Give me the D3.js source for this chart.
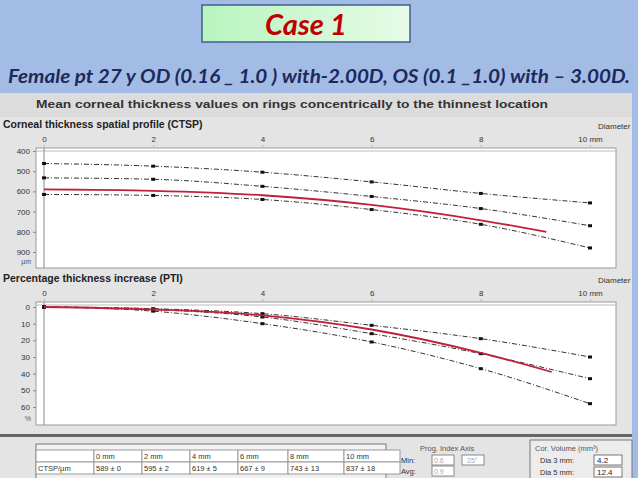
<!DOCTYPE html><html><head><meta charset="utf-8">
<script src="https://cdn.jsdelivr.net/npm/d3@7"></script>
<style>body{margin:0;background:#a3bce6;}svg{display:block}</style></head><body>
<svg id="c" width="638" height="478"></svg>
<script>
const diam=[0,2,4,6,8,10];
const diamTicks=[0,2,4,6,8,10];
const ctspTicks=[400,500,600,700,800,900];
const ptiTicks=[0,10,20,30,40,50,60];
const ctspUpper=[462,475,505,553,610,657];
const ctspMid=[533,540,575,625,685,770];
const ctspLower=[615,620,640,690,763,880];
const ctspRedX=[0,2,4,6,8,9.2];
const ctspRed=[590,597,619,667,743,800];
const ptiUpper=[0,1,4,11,19,30];
const ptiMid=[0,1.5,6,16,28,43];
const ptiLower=[0,2.5,10,21,37,58];
const ptiRedX=[0,2,4,6,8,9.3];
const ptiRed=[0,1.5,5,13.5,27.5,39];
const tableHead=["","0 mm","2 mm","4 mm","6 mm","8 mm","10 mm"];
const tableRow=["CTSP/µm","589 ± 0","595 ± 2","619 ± 5","667 ± 9","743 ± 13","837 ± 18"];

const svg=d3.select("#c");
const defs=svg.append("defs");
const g=defs.append("linearGradient").attr("id","gr");
g.append("stop").attr("offset","0").attr("stop-color","#b8f5bf");
g.append("stop").attr("offset","1").attr("stop-color","#e6fbe6");
svg.append("rect").attr("x",202).attr("y",5).attr("width",208).attr("height",37).attr("fill","url(#gr)").attr("stroke","#3f5f8f").attr("stroke-width",1.5);
svg.append("text").attr("x",306).attr("y",35).attr("text-anchor","middle").attr("font-family","Lato").attr("font-weight","bold").attr("font-style","italic").attr("font-size",29).attr("fill","#c00000").text("Case 1");
svg.append("text").attr("x",8).attr("y",83).attr("textLength",622).attr("lengthAdjust","spacingAndGlyphs").attr("font-family","Lato").attr("font-weight","bold").attr("font-style","italic").attr("font-size",19).attr("fill","#1d2a5c").text("Female pt 27 y OD (0.16 _ 1.0 ) with-2.00D, OS (0.1 _1.0) with – 3.00D.");

svg.append("rect").attr("x",0).attr("y",93).attr("width",632).attr("height",385).attr("fill","#e4e4e4");
svg.append("rect").attr("x",0).attr("y",93).attr("width",632).attr("height",24).attr("fill","#dcdcdc");
const F="Liberation Sans";
svg.append("text").attr("x",36).attr("y",108).attr("font-family",F).attr("font-weight","bold").attr("font-size",11).attr("fill","#333").attr("textLength",512).attr("lengthAdjust","spacingAndGlyphs").text("Mean corneal thickness values on rings concentrically to the thinnest location");

const x=d3.scaleLinear().domain([0,10]).range([44,590]);

function panel(title,y0,y1,yDom,yRange,yT,unit,series,red){
  svg.append("text").attr("x",3).attr("y",y0-20).attr("font-family",F).attr("font-weight","bold").attr("font-size",10.5).attr("fill","#222").text(title);
  svg.append("text").attr("x",598).attr("y",y0-19).attr("font-family",F).attr("font-size",8).attr("fill","#333").text("Diameter");
  svg.append("rect").attr("x",36).attr("y",y0).attr("width",580).attr("height",y1-y0).attr("fill","#fff").attr("stroke","#999");
  const y=d3.scaleLinear().domain(yDom).range(yRange);
  const xa=svg.append("g").attr("transform",`translate(0,${y0})`).call(d3.axisTop(x).tickValues(diamTicks).tickSize(3).tickFormat((d)=>d==10?"10  mm":d));
  xa.select(".domain").remove();
  xa.selectAll("text").attr("font-family",F).attr("font-size",8).attr("fill","#333");
  xa.selectAll("line").attr("stroke","#bbb");
  svg.append("line").attr("x1",36).attr("x2",616).attr("y1",y0+3).attr("y2",y0+3).attr("stroke","#bbb");
  svg.append("line").attr("x1",44).attr("x2",44).attr("y1",y0).attr("y2",y1).attr("stroke","#888");
  const ya=svg.append("g").attr("transform",`translate(36,0)`).call(d3.axisLeft(y).tickValues(yT).tickSize(3));
  ya.select(".domain").remove();
  ya.selectAll("text").attr("font-family",F).attr("font-size",8).attr("fill","#333");
  ya.selectAll("line").attr("stroke","#888");
  svg.append("text").attr("x",31).attr("y",y1-4).attr("text-anchor","end").attr("font-family",F).attr("font-size",7).attr("fill","#555").text(unit);
  const line=d3.line().x(d=>x(d[0])).y(d=>y(d[1])).curve(d3.curveMonotoneX);
  series.forEach(s=>{
    const pts=diam.map((d,i)=>[d,s[i]]);
    svg.append("path").attr("d",line(pts)).attr("fill","none").attr("stroke","#333").attr("stroke-width",1).attr("stroke-dasharray","5,2,1,2");
    svg.selectAll(null).data(pts).enter().append("rect").attr("x",d=>x(d[0])-2).attr("y",d=>y(d[1])-1.5).attr("width",4).attr("height",3).attr("fill","#111");
  });
  const rp=red[0].map((d,i)=>[d,red[1][i]]);
  svg.append("path").attr("d",line(rp)).attr("fill","none").attr("stroke","#c0203a").attr("stroke-width",1.8);
}
panel("Corneal thickness spatial profile (CTSP)",148,268,[400,900],[151,252],ctspTicks,"µm",[ctspUpper,ctspMid,ctspLower],[ctspRedX,ctspRed]);
panel("Percentage thickness increase (PTI)",302,425,[0,60],[307,407],ptiTicks,"%",[ptiUpper,ptiMid,ptiLower],[ptiRedX,ptiRed]);

svg.append("rect").attr("x",0).attr("y",434).attr("width",632).attr("height",3).attr("fill","#666");
svg.append("rect").attr("x",36).attr("y",444).attr("width",350).attr("height",40).attr("fill","#f2f2f2").attr("stroke","#777");
const cw=[58,48,48,48,50,56,56];let cx=36;
tableHead.forEach((h,i)=>{
  svg.append("rect").attr("x",cx).attr("y",450).attr("width",cw[i]).attr("height",12).attr("fill","#fff").attr("stroke","#999");
  svg.append("rect").attr("x",cx).attr("y",462).attr("width",cw[i]).attr("height",12).attr("fill","#fff").attr("stroke","#999");
  svg.append("text").attr("x",cx+2).attr("y",459).attr("font-family",F).attr("font-size",7.5).attr("fill","#333").text(h);
  svg.append("text").attr("x",cx+2).attr("y",471).attr("font-family",F).attr("font-size",7.5).attr("fill","#333").text(tableRow[i]);
  cx+=cw[i];
});
svg.append("text").attr("x",420).attr("y",451).attr("font-family",F).attr("font-size",7.5).attr("fill","#555").text("Prog. Index  Axis");
svg.append("text").attr("x",401).attr("y",463).attr("font-family",F).attr("font-size",7.5).attr("fill","#333").text("Min:");
svg.append("text").attr("x",401).attr("y",474).attr("font-family",F).attr("font-size",7.5).attr("fill","#333").text("Avg:");
svg.append("rect").attr("x",432).attr("y",455).attr("width",22).attr("height",10).attr("fill","#fff").attr("stroke","#888");
svg.append("text").attr("x",434).attr("y",463).attr("font-family",F).attr("font-size",7).attr("fill","#aaa").text("0.6");
svg.append("rect").attr("x",462).attr("y",455).attr("width",22).attr("height",10).attr("fill","#fff").attr("stroke","#888");
svg.append("text").attr("x",467).attr("y",463).attr("font-family",F).attr("font-size",7).attr("fill","#aaa").text("25°");
svg.append("rect").attr("x",432).attr("y",466).attr("width",22).attr("height",10).attr("fill","#fff").attr("stroke","#888");
svg.append("text").attr("x",434).attr("y",474).attr("font-family",F).attr("font-size",7).attr("fill","#aaa").text("0.9");
svg.append("rect").attr("x",530).attr("y",440).attr("width",102).attr("height",40).attr("fill","#ececec").attr("stroke","#777");
svg.append("text").attr("x",535).attr("y",451).attr("font-family",F).attr("font-size",7.5).attr("fill","#555").text("Cor. Volume (mm³)");
svg.append("text").attr("x",540).attr("y",463).attr("font-family",F).attr("font-size",7.5).attr("fill","#333").text("Dia 3 mm:");
svg.append("rect").attr("x",594).attr("y",455).attr("width",28).attr("height",10).attr("fill","#fff").attr("stroke","#777");
svg.append("text").attr("x",597).attr("y",463).attr("font-family",F).attr("font-size",8).attr("fill","#222").text("4.2");
svg.append("text").attr("x",540).attr("y",475).attr("font-family",F).attr("font-size",7.5).attr("fill","#333").text("Dia 5 mm:");
svg.append("rect").attr("x",594).attr("y",467).attr("width",28).attr("height",10).attr("fill","#fff").attr("stroke","#777");
svg.append("text").attr("x",597).attr("y",475).attr("font-family",F).attr("font-size",8).attr("fill","#222").text("12.4");
</script></body></html>
